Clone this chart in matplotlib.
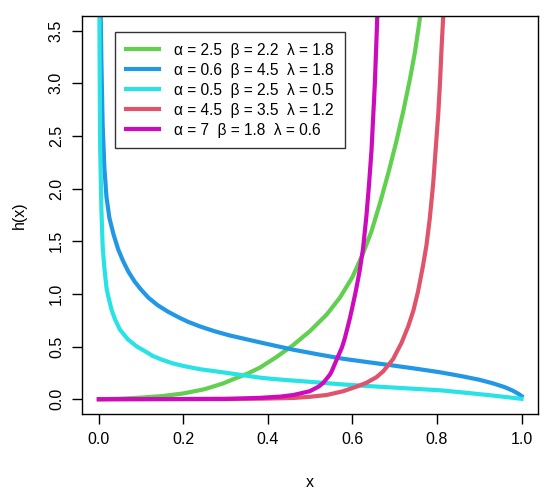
import matplotlib
matplotlib.use("Agg")
import matplotlib.pyplot as plt

# valores (x, h(x))
verde_x = [0.0, 0.05, 0.1, 0.15, 0.2, 0.25, 0.294, 0.318, 0.35, 0.381, 0.42, 0.46, 0.499,
           0.539, 0.57, 0.6, 0.625, 0.645, 0.665, 0.685, 0.704, 0.72, 0.736, 0.748, 0.759, 0.763]
verde_y = [0.0, 0.005, 0.015, 0.03, 0.055, 0.095, 0.15, 0.19, 0.24, 0.30, 0.40, 0.515, 0.645,
           0.804, 0.963, 1.16, 1.384, 1.595, 1.86, 2.15, 2.45, 2.73, 3.04, 3.3, 3.6, 3.75]

azul_x = [0.004, 0.006, 0.009, 0.013, 0.018, 0.025, 0.035, 0.046, 0.0575, 0.07, 0.085, 0.1,
          0.117, 0.14, 0.164, 0.19, 0.211, 0.24, 0.274, 0.31, 0.334, 0.381, 0.42, 0.46, 0.52,
          0.578, 0.64, 0.696, 0.75, 0.807, 0.854, 0.9, 0.933, 0.96, 0.98, 0.993, 1.0]
azul_y = [3.75, 3.2, 2.6, 2.2, 1.92, 1.72, 1.56, 1.42, 1.31, 1.21, 1.115, 1.04,
          0.965, 0.89, 0.83, 0.775, 0.735, 0.69, 0.645, 0.605, 0.583, 0.54, 0.505, 0.47, 0.425,
          0.384, 0.35, 0.32, 0.29, 0.256, 0.222, 0.185, 0.15, 0.115, 0.08, 0.05, 0.03]

ciano_x = [0.0012, 0.0017, 0.0025, 0.003, 0.006, 0.009, 0.013, 0.018, 0.022, 0.03, 0.038, 0.05,
           0.069, 0.09, 0.109, 0.128, 0.148, 0.175, 0.203, 0.239, 0.274, 0.32, 0.381, 0.405,
           0.45, 0.5, 0.578, 0.617, 0.7, 0.807, 0.854, 0.92, 1.0]
ciano_y = [3.75, 3.3, 2.7, 2.4, 1.8, 1.45, 1.25, 1.06, 0.98, 0.85, 0.76, 0.66,
           0.567, 0.50, 0.456, 0.41, 0.377, 0.34, 0.313, 0.285, 0.266, 0.24, 0.205, 0.195,
           0.18, 0.165, 0.14, 0.13, 0.11, 0.085, 0.067, 0.04, 0.004]

vermelho_x = [0.0, 0.381, 0.46, 0.499, 0.539, 0.578, 0.61, 0.633, 0.657, 0.673, 0.688, 0.696,
              0.716, 0.732, 0.744, 0.755, 0.767, 0.775, 0.783, 0.791, 0.797, 0.803, 0.807,
              0.811, 0.815, 0.818]
vermelho_y = [0.0, 0.005, 0.012, 0.023, 0.04, 0.076, 0.12, 0.156, 0.21, 0.266, 0.34, 0.38,
              0.535, 0.693, 0.84, 1.02, 1.27, 1.46, 1.72, 2.05, 2.38, 2.71, 3.0,
              3.35, 3.66, 3.9]

magenta_x = [0.0, 0.3, 0.381, 0.43, 0.46, 0.499, 0.52, 0.531, 0.546, 0.551, 0.566, 0.575,
             0.582, 0.594, 0.606, 0.61, 0.617, 0.625, 0.633, 0.639, 0.645, 0.653, 0.658, 0.661]
magenta_y = [0.0, 0.002, 0.013, 0.025, 0.04, 0.076, 0.12, 0.156, 0.23, 0.266, 0.408, 0.49,
             0.58, 0.77, 0.99, 1.07, 1.22, 1.43, 1.74, 2.03, 2.36, 3.0, 3.55, 3.9]

rotulos = [
    "α = 2.5  β = 2.2  λ = 1.8",
    "α = 0.6  β = 4.5  λ = 1.8",
    "α = 0.5  β = 2.5  λ = 0.5",
    "α = 4.5  β = 3.5  λ = 1.2",
    "α = 7  β = 1.8  λ = 0.6",
]
cores = ["#61D04F", "#2297E6", "#28E2E5", "#DF536B", "#CD0BBC"]

x_ticks = [0.0, 0.2, 0.4, 0.6, 0.8, 1.0]
y_ticks = [0.0, 0.5, 1.0, 1.5, 2.0, 2.5, 3.0, 3.5]

plt.rcParams['font.family'] = ['Liberation Sans', 'DejaVu Sans']

fig = plt.figure(figsize=(5.5, 4.94), dpi=100)
ax = fig.add_axes([0.149, 0.162, 0.830, 0.806])

series = [(verde_x, verde_y), (azul_x, azul_y), (ciano_x, ciano_y),
          (vermelho_x, vermelho_y), (magenta_x, magenta_y)]
for (xs, ys), cor, rot in zip(series, cores, rotulos):
    ax.plot(xs, ys, color=cor, lw=3, label=rot, solid_joinstyle='round')

ax.set_xlim(-0.04, 1.04)
ax.set_ylim(-0.14, 3.64)
ax.set_xticks(x_ticks)
ax.set_xticklabels([f"{v:.1f}" for v in x_ticks])
ax.set_yticks(y_ticks)
ax.set_yticklabels([f"{v:.1f}" for v in y_ticks], rotation=90, va='center')
ax.tick_params(direction='out', length=7, width=1, labelsize=11.5, pad=6, colors='black')
for s in ax.spines.values():
    s.set_linewidth(1)

ax.set_xlabel("x", fontsize=11.5, labelpad=20)
ax.set_ylabel("h(x)", fontsize=11.5, labelpad=16)

leg = ax.legend(loc='upper left', bbox_to_anchor=(0.073, 0.96), fontsize=11.2,
                frameon=True, fancybox=False, edgecolor='black', handlelength=2.1,
                handletextpad=1.0, labelspacing=0.32, borderpad=0.7, borderaxespad=0)
leg.get_frame().set_linewidth(1)

fig.savefig("out.png", dpi=100)
